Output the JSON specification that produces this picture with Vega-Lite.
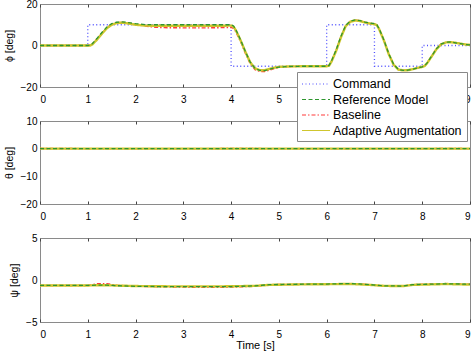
{
  "$schema": "https://vega.github.io/schema/vega-lite/v6.json",
  "padding": {"left": 3, "top": -2, "right": 0, "bottom": 0},
  "background": "white",
  "spacing": 10,
  "config": {
    "font": "Liberation Sans",
    "view": {"stroke": "#8a8a8a", "strokeWidth": 1},
    "axis": {"labelFont": "Liberation Sans", "labelFontSize": 10, "labelColor": "#000", "titleFont": "Liberation Sans", "titleFontWeight": "normal", "titleFontSize": 10.5, "titleColor": "#000", "grid": false, "domain": false},
    "legend": {"labelFont": "Liberation Sans", "labelFontSize": 12.5, "labelColor": "#000", "symbolType": "M-1,0H3", "symbolStrokeWidth": 1.2, "symbolSize": 196, "padding": 4, "rowPadding": 0.5, "labelOffset": 16, "fillColor": "#ffffff", "strokeColor": "#888888"}
  },
  "datasets": {
    "phiCmd": [{"t": 0, "Command": 0}, {"t": 1, "Command": 10}, {"t": 4, "Command": -10}, {"t": 6, "Command": 10}, {"t": 7, "Command": -10}, {"t": 8, "Command": 0}, {"t": 9, "Command": 0}],
    "thetaCmd": [{"t": 0, "Command": 0}, {"t": 9, "Command": 0}],
    "phi": [
      {"t": 0, "Reference Model": 0, "Baseline": 0, "Adaptive Augmentation": 0},
      {"t": 0.5, "Reference Model": 0, "Baseline": 0, "Adaptive Augmentation": 0},
      {"t": 1, "Reference Model": 0, "Baseline": 0, "Adaptive Augmentation": 0},
      {"t": 1.05, "Reference Model": 0.1, "Baseline": 0.1, "Adaptive Augmentation": 0},
      {"t": 1.1, "Reference Model": 1.0, "Baseline": 0.9, "Adaptive Augmentation": 0.6},
      {"t": 1.2, "Reference Model": 3.6, "Baseline": 3.4, "Adaptive Augmentation": 3.0},
      {"t": 1.3, "Reference Model": 6.4, "Baseline": 6.1, "Adaptive Augmentation": 5.8},
      {"t": 1.4, "Reference Model": 8.9, "Baseline": 8.6, "Adaptive Augmentation": 8.3},
      {"t": 1.5, "Reference Model": 10.5, "Baseline": 10.2, "Adaptive Augmentation": 10.0},
      {"t": 1.6, "Reference Model": 11.2, "Baseline": 11.0, "Adaptive Augmentation": 10.8},
      {"t": 1.7, "Reference Model": 11.4, "Baseline": 11.2, "Adaptive Augmentation": 11.0},
      {"t": 1.8, "Reference Model": 11.2, "Baseline": 11.0, "Adaptive Augmentation": 10.8},
      {"t": 1.9, "Reference Model": 10.9, "Baseline": 10.6, "Adaptive Augmentation": 10.4},
      {"t": 2.0, "Reference Model": 10.5, "Baseline": 10.2, "Adaptive Augmentation": 10.0},
      {"t": 2.2, "Reference Model": 10.1, "Baseline": 9.4, "Adaptive Augmentation": 9.6},
      {"t": 2.4, "Reference Model": 10.0, "Baseline": 8.8, "Adaptive Augmentation": 9.5},
      {"t": 2.6, "Reference Model": 10.0, "Baseline": 8.6, "Adaptive Augmentation": 9.5},
      {"t": 3.0, "Reference Model": 10.0, "Baseline": 8.5, "Adaptive Augmentation": 9.5},
      {"t": 3.5, "Reference Model": 10.0, "Baseline": 8.5, "Adaptive Augmentation": 9.5},
      {"t": 3.8, "Reference Model": 10.0, "Baseline": 8.6, "Adaptive Augmentation": 9.5},
      {"t": 4.0, "Reference Model": 10.0, "Baseline": 8.7, "Adaptive Augmentation": 9.6},
      {"t": 4.05, "Reference Model": 9.4, "Baseline": 8.3, "Adaptive Augmentation": 9.1},
      {"t": 4.1, "Reference Model": 7.6, "Baseline": 6.6, "Adaptive Augmentation": 7.3},
      {"t": 4.2, "Reference Model": 2.6, "Baseline": 1.8, "Adaptive Augmentation": 2.4},
      {"t": 4.3, "Reference Model": -3.0, "Baseline": -3.8, "Adaptive Augmentation": -3.1},
      {"t": 4.4, "Reference Model": -8.0, "Baseline": -8.8, "Adaptive Augmentation": -8.1},
      {"t": 4.5, "Reference Model": -11.0, "Baseline": -11.6, "Adaptive Augmentation": -11.0},
      {"t": 4.6, "Reference Model": -12.0, "Baseline": -12.5, "Adaptive Augmentation": -11.9},
      {"t": 4.7, "Reference Model": -12.1, "Baseline": -12.5, "Adaptive Augmentation": -11.9},
      {"t": 4.8, "Reference Model": -11.5, "Baseline": -11.9, "Adaptive Augmentation": -11.3},
      {"t": 4.9, "Reference Model": -10.8, "Baseline": -11.1, "Adaptive Augmentation": -10.7},
      {"t": 5.0, "Reference Model": -10.4, "Baseline": -10.6, "Adaptive Augmentation": -10.3},
      {"t": 5.2, "Reference Model": -10.1, "Baseline": -10.2, "Adaptive Augmentation": -10.1},
      {"t": 5.5, "Reference Model": -10.0, "Baseline": -10.0, "Adaptive Augmentation": -10.0},
      {"t": 5.8, "Reference Model": -10.0, "Baseline": -10.0, "Adaptive Augmentation": -10.0},
      {"t": 6.0, "Reference Model": -10.0, "Baseline": -10.0, "Adaptive Augmentation": -10.0},
      {"t": 6.05, "Reference Model": -9.6, "Baseline": -9.6, "Adaptive Augmentation": -9.7},
      {"t": 6.1, "Reference Model": -7.5, "Baseline": -7.6, "Adaptive Augmentation": -7.8},
      {"t": 6.2, "Reference Model": -2.0, "Baseline": -2.2, "Adaptive Augmentation": -2.5},
      {"t": 6.3, "Reference Model": 4.5, "Baseline": 4.3, "Adaptive Augmentation": 4.0},
      {"t": 6.4, "Reference Model": 9.8, "Baseline": 9.6, "Adaptive Augmentation": 9.4},
      {"t": 6.5, "Reference Model": 11.8, "Baseline": 11.7, "Adaptive Augmentation": 11.5},
      {"t": 6.6, "Reference Model": 12.3, "Baseline": 12.2, "Adaptive Augmentation": 12.1},
      {"t": 6.7, "Reference Model": 12.0, "Baseline": 11.9, "Adaptive Augmentation": 11.8},
      {"t": 6.8, "Reference Model": 11.3, "Baseline": 11.2, "Adaptive Augmentation": 11.1},
      {"t": 6.9, "Reference Model": 10.8, "Baseline": 10.7, "Adaptive Augmentation": 10.6},
      {"t": 7.0, "Reference Model": 10.5, "Baseline": 10.4, "Adaptive Augmentation": 10.3},
      {"t": 7.05, "Reference Model": 10.0, "Baseline": 9.9, "Adaptive Augmentation": 9.8},
      {"t": 7.1, "Reference Model": 8.0, "Baseline": 7.9, "Adaptive Augmentation": 7.8},
      {"t": 7.2, "Reference Model": 2.5, "Baseline": 2.4, "Adaptive Augmentation": 2.3},
      {"t": 7.3, "Reference Model": -4.0, "Baseline": -4.1, "Adaptive Augmentation": -4.2},
      {"t": 7.4, "Reference Model": -9.0, "Baseline": -9.1, "Adaptive Augmentation": -9.2},
      {"t": 7.5, "Reference Model": -11.5, "Baseline": -11.6, "Adaptive Augmentation": -11.6},
      {"t": 7.6, "Reference Model": -12.0, "Baseline": -12.0, "Adaptive Augmentation": -12.0},
      {"t": 7.7, "Reference Model": -11.9, "Baseline": -11.9, "Adaptive Augmentation": -11.9},
      {"t": 7.8, "Reference Model": -11.4, "Baseline": -11.4, "Adaptive Augmentation": -11.4},
      {"t": 7.9, "Reference Model": -10.8, "Baseline": -10.8, "Adaptive Augmentation": -10.8},
      {"t": 8.0, "Reference Model": -10.3, "Baseline": -10.3, "Adaptive Augmentation": -10.3},
      {"t": 8.05, "Reference Model": -9.8, "Baseline": -9.8, "Adaptive Augmentation": -9.9},
      {"t": 8.1, "Reference Model": -8.5, "Baseline": -8.5, "Adaptive Augmentation": -8.6},
      {"t": 8.2, "Reference Model": -5.0, "Baseline": -5.0, "Adaptive Augmentation": -5.2},
      {"t": 8.3, "Reference Model": -1.5, "Baseline": -1.5, "Adaptive Augmentation": -1.7},
      {"t": 8.4, "Reference Model": 0.8, "Baseline": 0.8, "Adaptive Augmentation": 0.6},
      {"t": 8.5, "Reference Model": 1.6, "Baseline": 1.6, "Adaptive Augmentation": 1.5},
      {"t": 8.6, "Reference Model": 1.7, "Baseline": 1.7, "Adaptive Augmentation": 1.6},
      {"t": 8.7, "Reference Model": 1.3, "Baseline": 1.3, "Adaptive Augmentation": 1.3},
      {"t": 8.8, "Reference Model": 0.9, "Baseline": 0.9, "Adaptive Augmentation": 0.9},
      {"t": 8.9, "Reference Model": 0.5, "Baseline": 0.5, "Adaptive Augmentation": 0.5},
      {"t": 9.0, "Reference Model": 0.3, "Baseline": 0.3, "Adaptive Augmentation": 0.3}
    ],
    "theta": [
      {"t": 0, "Reference Model": 0, "Baseline": 0.05, "Adaptive Augmentation": 0},
      {"t": 0.5, "Reference Model": 0.05, "Baseline": 0.08, "Adaptive Augmentation": 0},
      {"t": 1, "Reference Model": 0.05, "Baseline": 0, "Adaptive Augmentation": 0},
      {"t": 1.5, "Reference Model": 0, "Baseline": 0, "Adaptive Augmentation": 0},
      {"t": 2, "Reference Model": 0, "Baseline": 0, "Adaptive Augmentation": 0},
      {"t": 3, "Reference Model": 0, "Baseline": 0, "Adaptive Augmentation": 0},
      {"t": 3.6, "Reference Model": 0.05, "Baseline": 0, "Adaptive Augmentation": 0},
      {"t": 4, "Reference Model": 0, "Baseline": 0.08, "Adaptive Augmentation": 0},
      {"t": 5, "Reference Model": 0, "Baseline": 0, "Adaptive Augmentation": 0},
      {"t": 6, "Reference Model": 0, "Baseline": 0, "Adaptive Augmentation": 0},
      {"t": 7, "Reference Model": 0, "Baseline": 0, "Adaptive Augmentation": 0},
      {"t": 8, "Reference Model": 0, "Baseline": 0, "Adaptive Augmentation": 0},
      {"t": 8.6, "Reference Model": 0.05, "Baseline": 0.08, "Adaptive Augmentation": 0},
      {"t": 9, "Reference Model": 0.05, "Baseline": 0, "Adaptive Augmentation": 0}
    ],
    "psi": [
      {"t": 0, "Reference Model": -0.65, "Baseline": -0.65, "Adaptive Augmentation": -0.65},
      {"t": 1.0, "Reference Model": -0.65, "Baseline": -0.65, "Adaptive Augmentation": -0.65},
      {"t": 1.2, "Reference Model": -0.6, "Baseline": -0.45, "Adaptive Augmentation": -0.62},
      {"t": 1.4, "Reference Model": -0.62, "Baseline": -0.45, "Adaptive Augmentation": -0.62},
      {"t": 1.6, "Reference Model": -0.68, "Baseline": -0.62, "Adaptive Augmentation": -0.66},
      {"t": 2.0, "Reference Model": -0.75, "Baseline": -0.75, "Adaptive Augmentation": -0.72},
      {"t": 2.5, "Reference Model": -0.78, "Baseline": -0.8, "Adaptive Augmentation": -0.75},
      {"t": 3.0, "Reference Model": -0.8, "Baseline": -0.85, "Adaptive Augmentation": -0.76},
      {"t": 3.5, "Reference Model": -0.8, "Baseline": -0.88, "Adaptive Augmentation": -0.76},
      {"t": 4.0, "Reference Model": -0.78, "Baseline": -0.85, "Adaptive Augmentation": -0.75},
      {"t": 4.5, "Reference Model": -0.7, "Baseline": -0.75, "Adaptive Augmentation": -0.7},
      {"t": 4.8, "Reference Model": -0.55, "Baseline": -0.55, "Adaptive Augmentation": -0.58},
      {"t": 5.5, "Reference Model": -0.5, "Baseline": -0.52, "Adaptive Augmentation": -0.52},
      {"t": 6.0, "Reference Model": -0.48, "Baseline": -0.5, "Adaptive Augmentation": -0.5},
      {"t": 6.5, "Reference Model": -0.42, "Baseline": -0.45, "Adaptive Augmentation": -0.47},
      {"t": 6.9, "Reference Model": -0.55, "Baseline": -0.55, "Adaptive Augmentation": -0.58},
      {"t": 7.2, "Reference Model": -0.7, "Baseline": -0.7, "Adaptive Augmentation": -0.7},
      {"t": 7.6, "Reference Model": -0.72, "Baseline": -0.72, "Adaptive Augmentation": -0.72},
      {"t": 7.8, "Reference Model": -0.55, "Baseline": -0.55, "Adaptive Augmentation": -0.58},
      {"t": 8.5, "Reference Model": -0.45, "Baseline": -0.42, "Adaptive Augmentation": -0.48},
      {"t": 9.0, "Reference Model": -0.5, "Baseline": -0.5, "Adaptive Augmentation": -0.55}
    ]
  },
  "vconcat": [
    {
      "width": 430, "height": 83,
      "resolve": {"axis": {"x": "independent"}},
      "encoding": {
        "x": {"field": "t", "type": "quantitative", "scale": {"domain": [0, 9], "nice": false, "zero": false}, "axis": null},
        "y": {"field": "value", "type": "quantitative", "scale": {"domain": [-20, 20], "nice": false}, "axis": {"values": [-20, 0, 20], "ticks": false, "labelPadding": 3, "title": "ϕ [deg]", "titlePadding": 6}},
        "color": {"field": "series", "type": "nominal", "scale": {"domain": ["Command", "Reference Model", "Baseline", "Adaptive Augmentation"], "range": ["#5050ff", "#2e962e", "#ff3a3a", "#cfc62e"]}, "legend": {"title": null, "orient": "none", "legendX": 257, "legendY": 68}},
        "strokeDash": {"field": "series", "type": "nominal", "scale": {"domain": ["Command", "Reference Model", "Baseline", "Adaptive Augmentation"], "range": [[1, 2.5], [4, 2.5], [4, 2, 1.5, 2], [1, 0]]}, "legend": {"title": null, "orient": "none", "legendX": 257, "legendY": 68}}
      },
      "layer": [
        {"data": {"name": "phiCmd"}, "transform": [{"fold": ["Command"], "as": ["series", "value"]}], "mark": {"type": "line", "interpolate": "step-after", "strokeWidth": 1.3},
         "encoding": {"x": {"field": "t", "type": "quantitative", "scale": {"domain": [0, 9], "nice": false, "zero": false}, "axis": {"orient": "bottom", "values": [0, 1, 2, 3, 4, 5, 6, 7, 8, 9], "format": "d", "tickSize": -3, "tickColor": "#444", "labelPadding": 10, "title": null}}}},
        {"data": {"name": "phi"}, "transform": [{"fold": ["Baseline"], "as": ["series", "value"]}], "mark": {"type": "line", "strokeWidth": 1.4},
         "encoding": {"x": {"field": "t", "type": "quantitative", "scale": {"domain": [0, 9], "nice": false, "zero": false}, "axis": {"orient": "top", "values": [0, 1, 2, 3, 4, 5, 6, 7, 8, 9], "labels": false, "tickSize": -3, "tickColor": "#444", "title": null}}}},
        {"data": {"name": "phi"}, "transform": [{"fold": ["Adaptive Augmentation"], "as": ["series", "value"]}], "mark": {"type": "line", "strokeWidth": 2.4}},
        {"data": {"name": "phi"}, "transform": [{"fold": ["Reference Model"], "as": ["series", "value"]}], "mark": {"type": "line", "strokeWidth": 1.3}}
      ]
    },
    {
      "width": 430, "height": 83,
      "resolve": {"axis": {"x": "independent"}},
      "encoding": {
        "x": {"field": "t", "type": "quantitative", "scale": {"domain": [0, 9], "nice": false, "zero": false}, "axis": null},
        "y": {"field": "value", "type": "quantitative", "scale": {"domain": [-20, 10], "nice": false}, "axis": {"values": [-20, -10, 0, 10], "ticks": false, "labelPadding": 3, "title": "θ [deg]", "titlePadding": 6}},
        "color": {"field": "series", "type": "nominal", "scale": {"domain": ["Command", "Reference Model", "Baseline", "Adaptive Augmentation"], "range": ["#5050ff", "#2e962e", "#ff3a3a", "#cfc62e"]}, "legend": {"title": null, "orient": "none", "legendX": 257, "legendY": 68}},
        "strokeDash": {"field": "series", "type": "nominal", "scale": {"domain": ["Command", "Reference Model", "Baseline", "Adaptive Augmentation"], "range": [[1, 2.5], [4, 2.5], [4, 2, 1.5, 2], [1, 0]]}, "legend": {"title": null, "orient": "none", "legendX": 257, "legendY": 68}}
      },
      "layer": [
        {"data": {"name": "thetaCmd"}, "transform": [{"fold": ["Command"], "as": ["series", "value"]}], "mark": {"type": "line", "interpolate": "step-after", "strokeWidth": 1.3},
         "encoding": {"x": {"field": "t", "type": "quantitative", "scale": {"domain": [0, 9], "nice": false, "zero": false}, "axis": {"orient": "bottom", "values": [0, 1, 2, 3, 4, 5, 6, 7, 8, 9], "format": "d", "tickSize": -3, "tickColor": "#444", "labelPadding": 10, "title": null}}}},
        {"data": {"name": "theta"}, "transform": [{"fold": ["Baseline"], "as": ["series", "value"]}], "mark": {"type": "line", "strokeWidth": 1.4},
         "encoding": {"x": {"field": "t", "type": "quantitative", "scale": {"domain": [0, 9], "nice": false, "zero": false}, "axis": {"orient": "top", "values": [0, 1, 2, 3, 4, 5, 6, 7, 8, 9], "labels": false, "tickSize": -3, "tickColor": "#444", "title": null}}}},
        {"data": {"name": "theta"}, "transform": [{"fold": ["Adaptive Augmentation"], "as": ["series", "value"]}], "mark": {"type": "line", "strokeWidth": 2.4}},
        {"data": {"name": "theta"}, "transform": [{"fold": ["Reference Model"], "as": ["series", "value"]}], "mark": {"type": "line", "strokeWidth": 1.3}}
      ]
    },
    {
      "width": 430, "height": 84,
      "resolve": {"axis": {"x": "independent"}},
      "encoding": {
        "x": {"field": "t", "type": "quantitative", "scale": {"domain": [0, 9], "nice": false, "zero": false}, "axis": null},
        "y": {"field": "value", "type": "quantitative", "scale": {"domain": [-5, 5], "nice": false}, "axis": {"values": [-5, 0, 5], "ticks": false, "labelPadding": 3, "title": "ψ [deg]", "titlePadding": 6}},
        "color": {"field": "series", "type": "nominal", "scale": {"domain": ["Command", "Reference Model", "Baseline", "Adaptive Augmentation"], "range": ["#5050ff", "#2e962e", "#ff3a3a", "#cfc62e"]}, "legend": {"title": null, "orient": "none", "legendX": 257, "legendY": 68}},
        "strokeDash": {"field": "series", "type": "nominal", "scale": {"domain": ["Command", "Reference Model", "Baseline", "Adaptive Augmentation"], "range": [[1, 2.5], [4, 2.5], [4, 2, 1.5, 2], [1, 0]]}, "legend": {"title": null, "orient": "none", "legendX": 257, "legendY": 68}}
      },
      "layer": [
        {"data": {"name": "psi"}, "transform": [{"fold": ["Baseline"], "as": ["series", "value"]}], "mark": {"type": "line", "strokeWidth": 1.4},
         "encoding": {"x": {"field": "t", "type": "quantitative", "scale": {"domain": [0, 9], "nice": false, "zero": false}, "axis": {"orient": "bottom", "values": [0, 1, 2, 3, 4, 5, 6, 7, 8, 9], "format": "d", "tickSize": -3, "tickColor": "#444", "labelPadding": 10, "title": "Time [s]", "titleFontSize": 11, "titlePadding": 0}}}},
        {"data": {"name": "psi"}, "transform": [{"fold": ["Adaptive Augmentation"], "as": ["series", "value"]}], "mark": {"type": "line", "strokeWidth": 2.4},
         "encoding": {"x": {"field": "t", "type": "quantitative", "scale": {"domain": [0, 9], "nice": false, "zero": false}, "axis": {"orient": "top", "values": [0, 1, 2, 3, 4, 5, 6, 7, 8, 9], "labels": false, "tickSize": -3, "tickColor": "#444", "title": null}}}},
        {"data": {"name": "psi"}, "transform": [{"fold": ["Reference Model"], "as": ["series", "value"]}], "mark": {"type": "line", "strokeWidth": 1.3}}
      ]
    }
  ]
}
